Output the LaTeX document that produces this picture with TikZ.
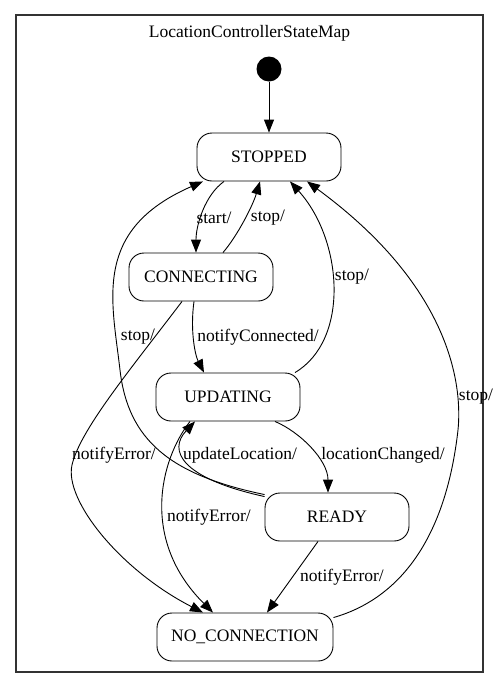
\documentclass[tikz,border=0pt]{standalone}
\usepackage{fontspec}
\setmainfont{Liberation Serif}
\usepackage{tikz}
\usetikzlibrary{calc}
\usetikzlibrary{arrows.meta,shapes}
\tikzstyle{state} = [draw, rounded corners=15pt, minimum height=48pt, minimum width=144pt, line width=0.9pt, font=\fontsize{17.5}{21}\selectfont]
\tikzstyle{lbl} = [inner sep=1pt, font=\fontsize{17.5}{21}\selectfont]
\tikzstyle{trans} = [line width=0.9pt, -{Triangle[length=13pt, width=10pt]}]

\begin{document}
\begin{tikzpicture} [x=1pt, y=-1pt]

						\useasboundingbox (0,0) rectangle (500, 689);
						\draw[line width = 1.2pt, black!80] (16,15) rectangle (483, 672);
						\node[lbl] (title) at (249.5, 33) {LocationControllerStateMap};

						\node[circle, fill=black, minimum size=25pt, inner sep=0pt] (init) at (269, 69) {};
						\node[state] (stopped) at (269, 157) {STOPPED};
						\node[state] (connecting) at (201, 277) {CONNECTING};
						\node[state] (updating) at (228, 397) {UPDATING};
						\node[state] (ready) at (337, 517) {READY};
						\node[state, minimum width=176pt] (noconn) at (245, 637) {NO\_CONNECTION};

						\draw[trans] (init) -- (stopped);

						\draw[trans] ([xshift=-45pt]stopped.south) .. controls (205, 195) and (196, 225) .. ([xshift=-5pt]connecting.north);
						\draw[trans] ([xshift=22pt]connecting.north) .. controls (238, 235) and (253, 205) .. ([xshift=-9pt]stopped.south);
						\draw[trans] ([xshift=-7pt]connecting.south) .. controls (190, 330) and (195, 355) .. ([xshift=-24pt]updating.north);
						\draw[trans] ([xshift=67pt]updating.north) .. controls (350, 340) and (343, 240) .. ([xshift=21pt]stopped.south);
						\draw[trans] ([yshift=-2pt]ready.north west) .. controls (170, 475) and (128, 440) .. (120, 370)
							.. controls (112, 300) and (92, 230) .. ([xshift=-66pt]stopped.south);
						\draw[trans] ([yshift=-4pt]ready.north west) .. controls (180, 478) and (168, 450) .. ([xshift=-33pt]updating.south);
						\draw[trans] ([xshift=-38pt]updating.south) .. controls (160, 460) and (140, 540) .. ([xshift=-32pt]noconn.north);
						\draw[trans] ([xshift=-19pt]connecting.south) .. controls (130, 370) and (80, 430) .. (72, 465)
							.. controls (64, 500) and (120, 570) .. ([xshift=-42pt]noconn.north);
						\draw[trans] ([xshift=-19pt]ready.south) -- ([xshift=22pt]noconn.north);
						\draw[trans] ([xshift=47pt]updating.south) .. controls (300, 432) and (328, 460) .. ([xshift=-9pt]ready.north);
						\draw[trans] ([yshift=-5pt]noconn.north east) .. controls (395, 600) and (445, 545) .. (458, 430)
							.. controls (462, 390) and (455, 290) .. ([xshift=38pt]stopped.south);

						\node[lbl] (lstart) at (214, 218) {start/};
						\node[lbl] (lstop1) at (268, 218) {stop/};
						\node[lbl] (lconn) at (258, 337) {notifyConnected/};
						\node[lbl] (lstop2) at (352, 277) {stop/};
						\node[lbl] (lstop3) at (138, 337) {stop/};
						\node[lbl] (lupd) at (240, 455) {updateLocation/};
						\node[lbl] (lchg) at (383, 455) {locationChanged/};
						\node[lbl] (lerr1) at (114, 455) {notifyError/};
						\node[lbl] (lerr2) at (209, 517) {notifyError/};
						\node[lbl] (lerr3) at (342, 577) {notifyError/};
						\node[lbl] (lstop4) at (476, 397) {stop/};

					\end{tikzpicture}
\end{document}
